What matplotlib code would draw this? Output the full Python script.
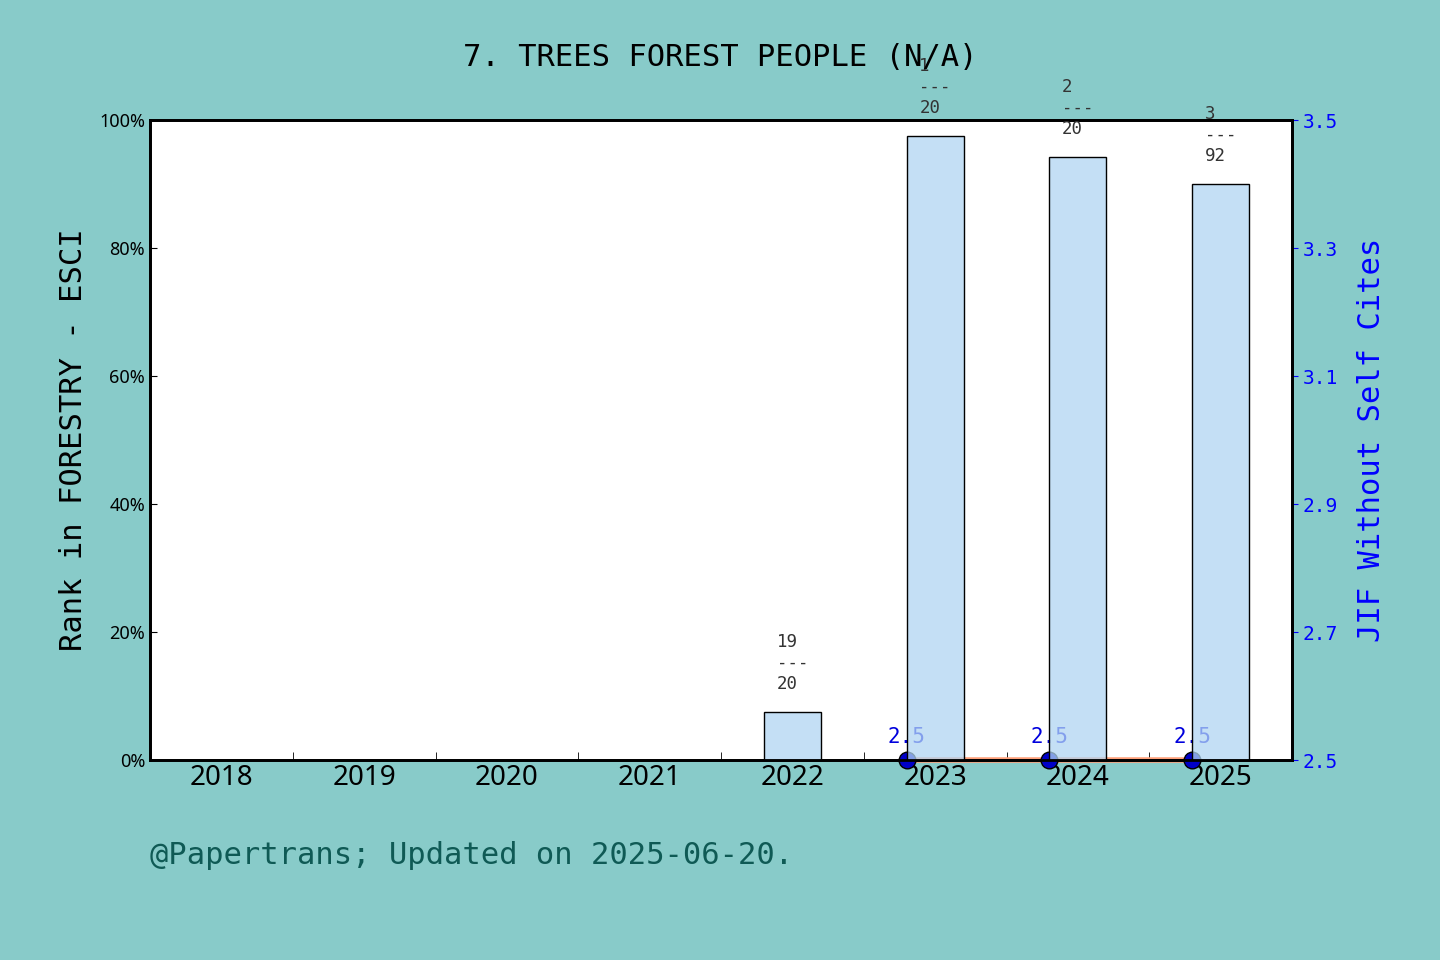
import numpy as np
import matplotlib
matplotlib.use("Agg")
import matplotlib.pyplot as plt
from matplotlib.ticker import FixedLocator, FuncFormatter

# data
years = [2018, 2019, 2020, 2021, 2022, 2023, 2024, 2025]
rank_pct = [None, None, None, None, 7.5, 97.5, 94.2, 90.0]
rank_pos = [None, None, None, None, 19, 1, 2, 3]
rank_total = [None, None, None, None, 20, 20, 20, 92]
jif_nsc = [None, None, None, None, None, 2.5, 2.5, 2.5]

title = "7. TREES FOREST PEOPLE (N/A)"
footer = "@Papertrans; Updated on 2025-06-20."

bg = "#88CBC9"
mono = "DejaVu Sans Mono"
sans = ["Noto Sans", "DejaVu Sans"]

fig = plt.figure(figsize=(14.4, 9.6), dpi=100, facecolor=bg)
ax2 = fig.add_axes([150 / 1440, 1 - 760 / 960, 1142 / 1440, 640 / 960])
ax = ax2.twinx()
# bars axis drawn above the line axis
ax.set_zorder(ax2.get_zorder() + 1)
ax.patch.set_visible(False)
ax2.set_facecolor("white")

x = np.arange(len(years))

# JIF line on the right axis
jx = [i - 0.2 for i, v in enumerate(jif_nsc) if v is not None]
jy = [v for v in jif_nsc if v is not None]
ax2.plot(jx, jy, color="#FFA07A", lw=4, zorder=2, clip_on=False)
ax2.plot(jx, jy, "o", ms=12, mfc="#0000C8", mec="black", mew=1, zorder=3, clip_on=False)
for xi, yi in zip(jx, jy):
    ax2.text(xi, yi + 0.02, "%.1f" % yi, color="#0000DD", fontsize=15, family=mono,
             ha="center", va="bottom")

# rank bars on the left axis
for i, h in enumerate(rank_pct):
    if h is None:
        continue
    ax.bar(x[i], h, width=0.4, facecolor=(176 / 255, 213 / 255, 242 / 255, 0.75),
           edgecolor="black", lw=1)
    ax.text(x[i], h + 3, "%d\n---\n%d" % (rank_pos[i], rank_total[i]), color="#333333",
            fontsize=12.5, family=mono, ha="center", va="bottom", multialignment="left",
            linespacing=1.2, clip_on=False)

ax.set_xlim(-0.5, len(years) - 0.5)
ax.set_ylim(0, 100)
ax2.set_ylim(2.5, 3.5)

# move the bar axis ticks to the left, the line axis ticks to the right
ax.yaxis.set_ticks_position("left")
ax.yaxis.set_label_position("left")
ax2.yaxis.set_ticks_position("right")
ax2.yaxis.set_label_position("right")

ax.set_yticks([0, 20, 40, 60, 80, 100])
ax.yaxis.set_major_formatter(FuncFormatter(lambda v, p: "%d%%" % v))
ax.tick_params(axis="y", direction="in", length=5, labelsize=13)
for lab in ax.get_yticklabels():
    lab.set_family(sans)

ax2.set_yticks([2.5, 2.7, 2.9, 3.1, 3.3, 3.5])
ax2.yaxis.set_major_formatter(FuncFormatter(lambda v, p: "%.1f" % v))
ax2.tick_params(axis="y", direction="out", length=4, colors="blue", labelsize=14)
for lab in ax2.get_yticklabels():
    lab.set_family(mono)

ax2.set_xticks(x)
ax2.set_xticklabels([str(y) for y in years], fontsize=20, family=sans)
ax2.tick_params(axis="x", length=0, pad=3)
ax2.xaxis.set_minor_locator(FixedLocator(x[:-1] + 0.5))
ax2.tick_params(axis="x", which="minor", direction="in", length=6)

ax.set_ylabel("Rank in FORESTRY - ESCI", fontsize=22, family=mono, labelpad=8)
ax2.set_ylabel("JIF Without Self Cites", fontsize=22, family=mono, color="blue", labelpad=14)

for a in (ax, ax2):
    for s in a.spines.values():
        s.set_linewidth(2)
        s.set_color("black")

fig.text(0.5, 1 - 57 / 960, title, fontsize=22, family=mono, ha="center", va="center")
fig.text(150 / 1440, 1 - 855 / 960, footer, fontsize=22, family=mono, color="#0F5A55",
         ha="left", va="center")

fig.savefig("out.png", dpi=100, facecolor=bg)
